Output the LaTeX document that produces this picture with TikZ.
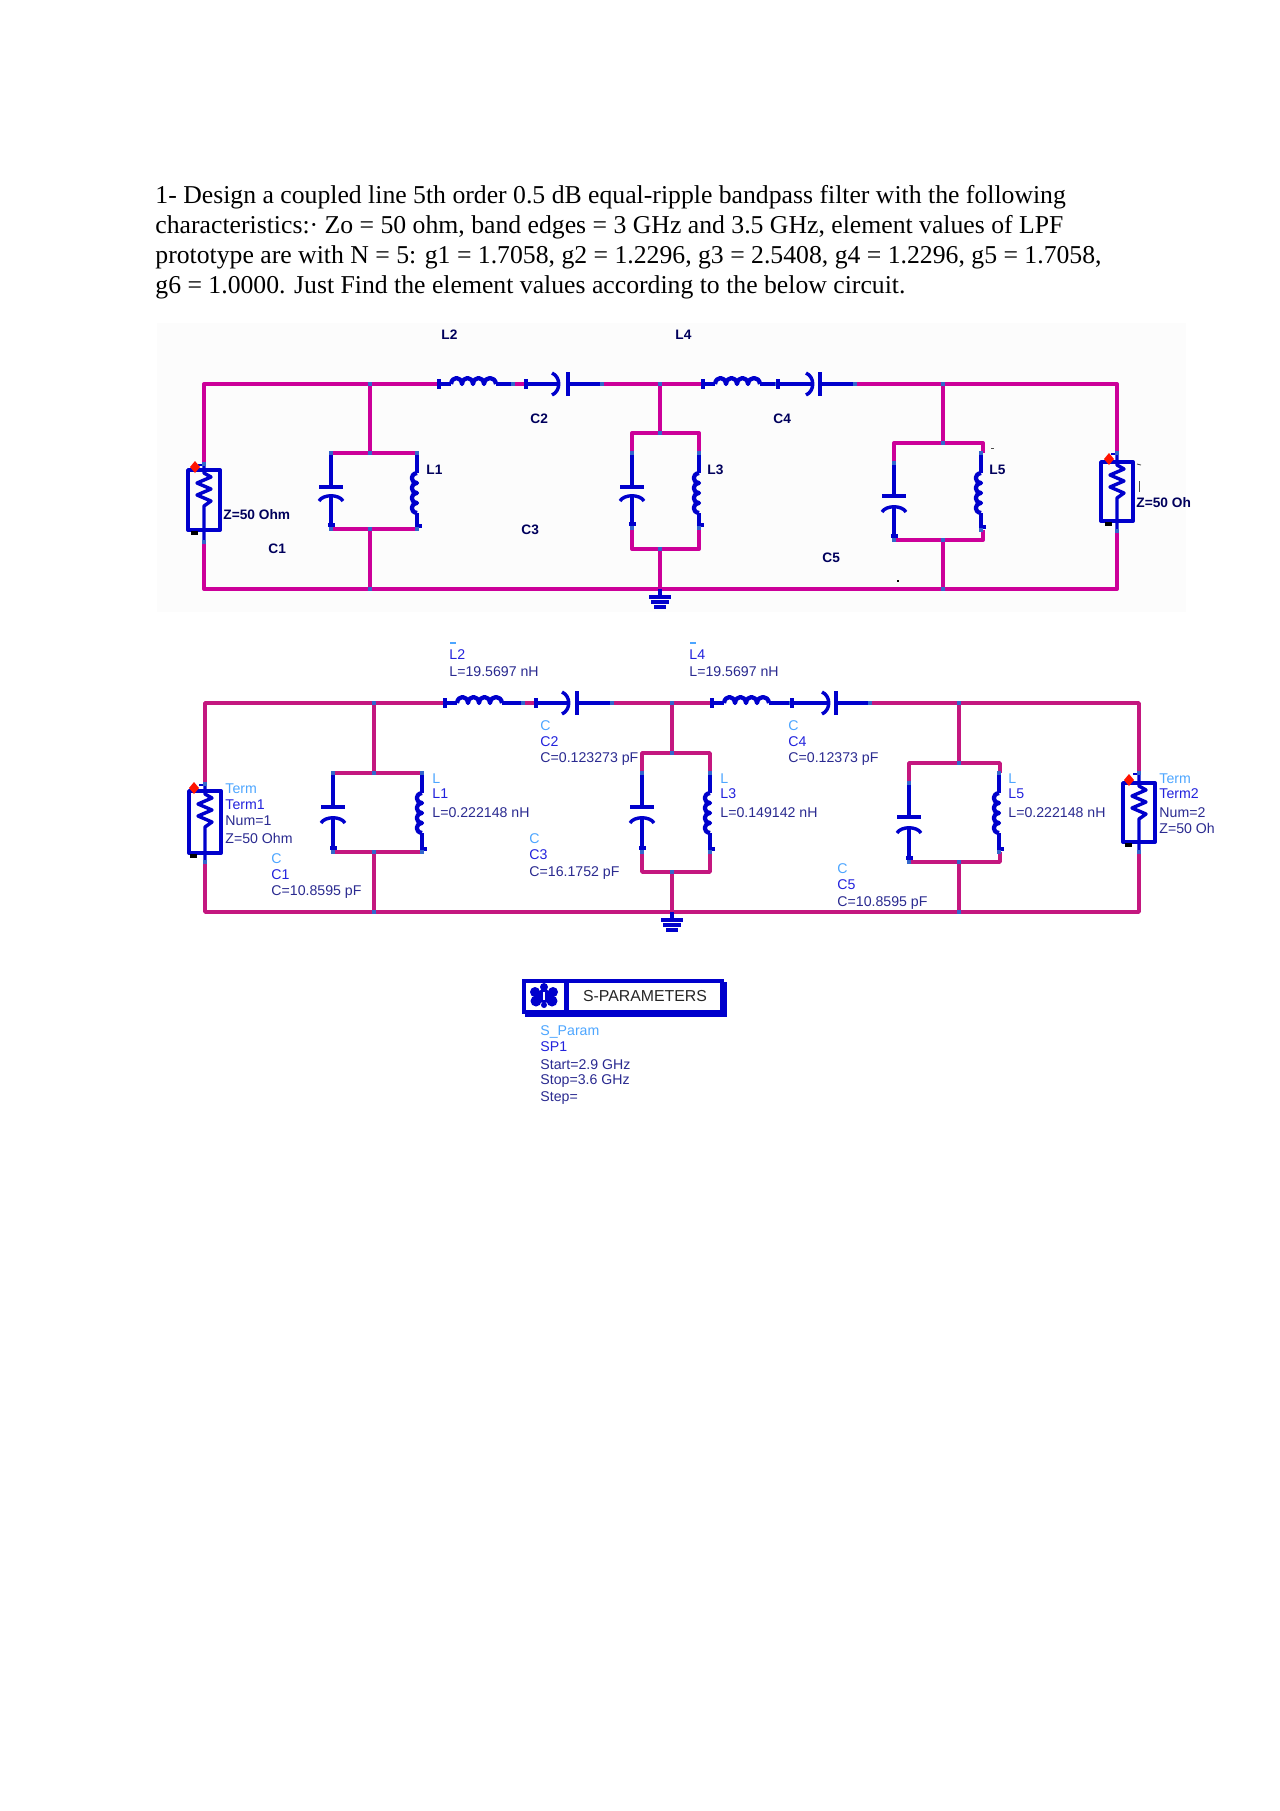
\documentclass[tikz,border=0pt]{standalone}
\usepackage{fontspec}
\setmainfont{Liberation Serif}
\newfontfamily\adsfont{Liberation Sans}
\usetikzlibrary{calc}
\definecolor{railtop}{HTML}{CC0099}
\definecolor{railbot}{HTML}{C4177F}
\definecolor{partblue}{HTML}{0000CC}
\definecolor{pinblue}{HTML}{3366CC}
\definecolor{typeblue}{HTML}{4DA6FF}
\definecolor{nameblue}{HTML}{2222DD}
\definecolor{valblue}{HTML}{2A2A90}
\tikzset{
	wiretop/.style={line width=1.9pt, color=railtop, line join=round},
	wirebot/.style={line width=1.7pt, color=railbot, line join=round},
	part/.style={line width=1.6pt, color=partblue, line join=round},
	coil/.style={line width=2pt, color=partblue, line join=round},
	head/.style={anchor=west, inner sep=0pt, text height=8pt, text depth=0pt, font=\fontsize{12}{14}\selectfont},
	blur/.style={anchor=west, inner sep=0pt, text height=4.7pt, text depth=0pt, color=black!40!blue!60!black, font=\adsfont\bfseries\fontsize{6.4}{7}\selectfont},
	ttype/.style={anchor=west, inner sep=0pt, text height=4.7pt, text depth=0pt, color=typeblue, font=\adsfont\fontsize{6.6}{7.5}\selectfont},
	tname/.style={ttype, color=nameblue},
	tval/.style={ttype, color=valblue},
}
\def\junc(#1,#2){\fill[pinblue] ({#1-2},{#2-2}) rectangle ({#1+2},{#2+2});}
\def\serind(#1,#2,#3){\draw[part] ({#1+2},{#3-5}) -- ({#1+2},{#3+5});
	\draw[part] (#1,#3) -- ({#1+14},#3);
	\draw[coil] ({#1+14},#3) .. controls ({#1+15},{#3-8}) and ({#1+24},{#3-8}) .. ({#1+25},#3)
		.. controls ({#1+26},{#3-8}) and ({#1+35},{#3-8}) .. ({#1+36},#3)
		.. controls ({#1+37},{#3-8}) and ({#1+46},{#3-8}) .. ({#1+47},#3)
		.. controls ({#1+48},{#3-8}) and ({#1+58},{#3-8}) .. ({#1+59},#3);
	\draw[part] ({#1+59},#3) -- (#2,#3);
	\junc(#2,#3)}
\def\sercap(#1,#2,#3,#4,#5){\draw[part] ({#1+1},{#5-5}) -- ({#1+1},{#5+5});
	\draw[part] (#1,#5) -- ({#2+3},#5);
	\draw[part] ({#2-3},{#5-11}) .. controls ({#2+6},{#5-7}) and ({#2+6},{#5+7}) .. ({#2-3},{#5+11});
	\draw[part] (#3,{#5-12}) -- (#3,{#5+12});
	\draw[part] (#3,#5) -- (#4,#5);
	\junc(#4,#5)}
\def\shcap(#1,#2,#3,#4,#5){\draw[part] (#1,#2) -- (#1,#4);
	\draw[part] ({#1-12},#4) -- ({#1+12},#4);
	\draw[part] ({#1-12},{#5+3}) .. controls ({#1-8},{#5-4}) and ({#1+8},{#5-4}) .. ({#1+12},{#5+3});
	\draw[part] (#1,{#5-2}) -- (#1,#3);
	\draw[part] ({#1-3},{#3-4}) -- ({#1+4},{#3-4});
	\junc(#1,#2) \junc(#1,#3)}
\def\shind(#1,#2,#3,#4){\draw[part] (#1,#2) -- (#1,#4);
	\draw[coil] (#1,#4)
		.. controls ({#1-7},{#4+1}) and ({#1-7},{#4+9}) .. (#1,{#4+10})
		.. controls ({#1-7},{#4+11}) and ({#1-7},{#4+19}) .. (#1,{#4+20})
		.. controls ({#1-7},{#4+21}) and ({#1-7},{#4+29}) .. (#1,{#4+30})
		.. controls ({#1-7},{#4+31}) and ({#1-7},{#4+39}) .. (#1,{#4+40});
	\draw[part] (#1,{#4+40}) -- (#1,#3);
	\draw[part] ({#1-2},{#3-3}) -- ({#1+5},{#3-3});
	\junc(#1,#2) \junc(#1,#3)}
\def\termbox(#1,#2,#3,#4,#5,#6){\draw[part, line width=1.8pt] ({#1-16},#2) rectangle ({#1+16},#3);
	\draw[part] (#1,#4) -- (#1,{#2+3}) -- ({#1+7},{#2+7}) -- ({#1-7},{#2+13}) -- ({#1+7},{#2+19}) -- ({#1-7},{#2+25}) -- ({#1+7},{#2+31}) -- (#1,{#2+36}) -- (#1,#5);
	\draw[part, line width=1pt] ({#1-6},{#4+1}) -- (#1,{#4+1});
	\fill[red!85!orange] ({#6-5},{#2-3}) -- (#6,{#2-9}) -- ({#6+5},{#2-3}) -- (#6,{#2+3}) -- cycle;
	\fill[black] ({#6-4},{#3+1}) rectangle ({#6+3},{#3+5});
	\junc(#1,#4) \junc(#1,#5)}
\def\grnd(#1,#2){\draw[part] (#1,#2) -- (#1,{#2+8});
	\draw[part] ({#1-11},{#2+8}) -- ({#1+11},{#2+8});
	\draw[part] ({#1-9},{#2+13}) -- ({#1+9},{#2+13});
	\draw[part] ({#1-6},{#2+18}) -- ({#1+6},{#2+18});}

\begin{document}
\begin{tikzpicture}[x=0.0164cm, y=-0.0164cm]
	\useasboundingbox (0, 0) rectangle (1280, 1811);
	\fill[white] (0, 0) rectangle (1280, 1811);
	
	%%%%% TEXT %%%%%
	\node[head] (line1) at (155, 195) {1- Design a coupled line 5th order 0.5 dB equal-ripple bandpass filter with the following};
	\node[head] (line2) at (155, 225) {characteristics:· Zo = 50 ohm, band edges = 3 GHz and 3.5 GHz, element values of LPF};
	\node[head] (line3) at (155, 255) {prototype are with N = 5: g1 = 1.7058, g2 = 1.2296, g3 = 2.5408, g4 = 1.2296, g5 = 1.7058,};
	\node[head] (line4) at (155, 285) {g6 = 1.0000. Just Find the element values according to the below circuit.};
	
	%%%%% UPPER CIRCUIT %%%%%
	\fill[black!1] (157, 323) rectangle (1186, 612);
	\coordinate (aTL) at (204, 384);
	\coordinate (aTR) at (1117, 384);
	\coordinate (aBL) at (204, 589);
	\coordinate (aBR) at (1117, 589);
	\coordinate (aT1t) at (204, 464);
	\coordinate (aT1b) at (204, 542);
	\coordinate (aT2t) at (1117, 453);
	\coordinate (aT2b) at (1117, 531);
	\coordinate (aL2a) at (437, 384);
	\coordinate (aL2b) at (513, 384);
	\coordinate (aC2a) at (525, 384);
	\coordinate (aC2b) at (602, 384);
	\coordinate (aL4a) at (701, 384);
	\coordinate (aC4b) at (855, 384);
	
	\draw[wiretop] (aT1t) -- (aTL) -- (aL2a);
	\draw[wiretop] (aL2b) -- (aC2a);
	\draw[wiretop] (aC2b) -- (aL4a);
	\draw[wiretop] (aC4b) -- (aTR) -- (aT2t);
	\draw[wiretop] (aT2b) -- (aBR) -- (aBL) -- (aT1b);
	
	\draw[wiretop] (370, 384) -- (370, 453);
	\draw[wiretop] (370, 529) -- (370, 589);
	\draw[wiretop] (331, 453) -- (417, 453);
	\draw[wiretop] (331, 529) -- (417, 529);
	
	\draw[wiretop] (660, 384) -- (660, 433);
	\draw[wiretop] (660, 549) -- (660, 589);
	\draw[wiretop] (632, 453) -- (632, 433) -- (699, 433) -- (699, 453);
	\draw[wiretop] (632, 528) -- (632, 549) -- (699, 549) -- (699, 528);
	
	\draw[wiretop] (943, 384) -- (943, 443);
	\draw[wiretop] (943, 540) -- (943, 589);
	\draw[wiretop] (894, 463) -- (894, 443) -- (983, 443) -- (983, 453);
	\draw[wiretop] (894, 540) -- (983, 540) -- (983, 530);
	
	\serind(437, 513, 384)
	\sercap(525, 555, 568, 602, 384)
	\serind(701, 777, 384)
	\sercap(777, 809, 820, 855, 384)
	
	\shcap(331, 453, 529, 487, 498)
	\shind(417, 453, 529, 473)
	\shcap(632, 453, 528, 487, 498)
	\shind(699, 453, 528, 473)
	\shcap(894, 463, 540, 496, 509)
	\shind(981, 453, 530, 473)
	
	\termbox(204, 470, 530, 464, 542, 195)
	\termbox(1117, 462, 521, 453, 531, 1109)
	\grnd(660, 589)
	\junc(370, 384) \junc(370, 453) \junc(370, 529) \junc(370, 589)
	\junc(660, 384) \junc(660, 433) \junc(660, 549)
	\junc(943, 384) \junc(943, 443) \junc(943, 540) \junc(943, 589)
	
	\node[blur] (aL2) at (441, 334) {L2};
	\node[blur] (aL4) at (675, 334) {L4};
	\node[blur] (aC2) at (530, 418) {C2};
	\node[blur] (aC4) at (773, 418) {C4};
	\node[blur] (aL1) at (426, 469) {L1};
	\node[blur] (aL3) at (707, 469) {L3};
	\node[blur] (aL5) at (989, 469) {L5};
	\node[blur] (aC3) at (521, 529) {C3};
	\node[blur] (aC5) at (822, 557) {C5};
	\node[blur] (aC1) at (268, 548) {C1};
	\node[blur] (aZ1) at (223, 514) {Z=50 Ohm};
	\node[blur] (aZ2) at (1136, 502) {Z=50 Oh};
	\fill[black] (897, 580) rectangle (899, 582);
	\draw[black!70, line width=0.4pt] (1139, 481) -- (1139, 492);
	\draw[black!70, line width=0.4pt] (1137, 464) -- (1141, 465);
	\draw[black!70, line width=0.4pt] (991, 448) -- (994, 448);
	
	%%%%% LOWER CIRCUIT %%%%%
	\coordinate (bTL) at (205, 703);
	\coordinate (bTR) at (1139, 703);
	\coordinate (bBL) at (205, 912);
	\coordinate (bBR) at (1139, 912);
	\coordinate (bT1t) at (205, 784);
	\coordinate (bT1b) at (205, 862);
	\coordinate (bT2t) at (1139, 773);
	\coordinate (bT2b) at (1139, 852);
	\coordinate (bL2a) at (443, 703);
	\coordinate (bL2b) at (523, 703);
	\coordinate (bC2a) at (535, 703);
	\coordinate (bC2b) at (612, 703);
	\coordinate (bL4a) at (710, 703);
	\coordinate (bC4b) at (870, 703);
	
	\draw[wirebot] (bT1t) -- (bTL) -- (bL2a);
	\draw[wirebot] (bL2b) -- (bC2a);
	\draw[wirebot] (bC2b) -- (bL4a);
	\draw[wirebot] (bC4b) -- (bTR) -- (bT2t);
	\draw[wirebot] (bT2b) -- (bBR) -- (bBL) -- (bT1b);
	
	\draw[wirebot] (374, 703) -- (374, 773);
	\draw[wirebot] (374, 852) -- (374, 912);
	\draw[wirebot] (333, 773) -- (422, 773);
	\draw[wirebot] (333, 852) -- (422, 852);
	
	\draw[wirebot] (672, 703) -- (672, 753);
	\draw[wirebot] (672, 872) -- (672, 912);
	\draw[wirebot] (642, 773) -- (642, 753) -- (710, 753) -- (710, 773);
	\draw[wirebot] (642, 852) -- (642, 872) -- (710, 872) -- (710, 852);
	
	\draw[wirebot] (959, 703) -- (959, 763);
	\draw[wirebot] (959, 862) -- (959, 912);
	\draw[wirebot] (909, 783) -- (909, 763) -- (1000, 763) -- (1000, 773);
	\draw[wirebot] (909, 862) -- (1000, 862) -- (1000, 852);
	
	\serind(443, 523, 703)
	\sercap(535, 565, 577, 612, 703)
	\serind(710, 791, 703)
	\sercap(791, 825, 836, 870, 703)
	
	\shcap(333, 773, 852, 807, 820)
	\shind(422, 773, 852, 793)
	\shcap(642, 773, 852, 807, 820)
	\shind(710, 773, 852, 793)
	\shcap(909, 783, 862, 817, 830)
	\shind(999, 773, 852, 793)
	
	\termbox(205, 791, 853, 784, 862, 194)
	\termbox(1139, 783, 842, 773, 852, 1129)
	\grnd(672, 912)
	\junc(374, 703) \junc(374, 773) \junc(374, 852) \junc(374, 912)
	\junc(672, 703) \junc(672, 753) \junc(672, 872)
	\junc(959, 703) \junc(959, 763) \junc(959, 862) \junc(959, 912)
	
	\node[ttype] (bL1t) at (432, 778) {L};
	\node[tname] (bL1n) at (432, 793) {L1};
	\node[tval] (bL1v) at (432, 812) {L=0.222148 nH};
	\draw[typeblue, line width=0.5pt] (450, 643) -- (456, 643);
	\node[tname] (bL2n) at (449, 654) {L2};
	\node[tval] (bL2v) at (449, 671) {L=19.5697 nH};
	\node[ttype] (bC2t) at (540, 725) {C};
	\node[tname] (bC2n) at (540, 741) {C2};
	\node[tval] (bC2v) at (540, 757) {C=0.123273 pF};
	\node[ttype] (bC3t) at (529, 838) {C};
	\node[tname] (bC3n) at (529, 854) {C3};
	\node[tval] (bC3v) at (529, 871) {C=16.1752 pF};
	\node[ttype] (bC1t) at (271, 858) {C};
	\node[tname] (bC1n) at (271, 874) {C1};
	\node[tval] (bC1v) at (271, 890) {C=10.8595 pF};
	\node[ttype] (bT1t) at (225, 788) {Term};
	\node[tname] (bT1n) at (225, 804) {Term1};
	\node[tval] (bT1m) at (225, 820) {Num=1};
	\node[tval] (bT1z) at (225, 838) {Z=50 Ohm};
	\draw[typeblue, line width=0.5pt] (690, 643) -- (696, 643);
	\node[tname] (bL4n) at (689, 654) {L4};
	\node[tval] (bL4v) at (689, 671) {L=19.5697 nH};
	\node[ttype] (bC4t) at (788, 725) {C};
	\node[tname] (bC4n) at (788, 741) {C4};
	\node[tval] (bC4v) at (788, 757) {C=0.12373 pF};
	\node[ttype] (bL3t) at (720, 778) {L};
	\node[tname] (bL3n) at (720, 793) {L3};
	\node[tval] (bL3v) at (720, 812) {L=0.149142 nH};
	\node[ttype] (bL5t) at (1008, 778) {L};
	\node[tname] (bL5n) at (1008, 793) {L5};
	\node[tval] (bL5v) at (1008, 812) {L=0.222148 nH};
	\node[ttype] (bC5t) at (837, 868) {C};
	\node[tname] (bC5n) at (837, 884) {C5};
	\node[tval] (bC5v) at (837, 901) {C=10.8595 pF};
	\node[ttype] (bT2t) at (1159, 778) {Term};
	\node[tname] (bT2n) at (1159, 793) {Term2};
	\node[tval] (bT2m) at (1159, 812) {Num=2};
	\node[tval] (bT2z) at (1159, 828) {Z=50 Oh};
	
	%%%%% S-PARAMETERS BOX %%%%%
	\fill[partblue] (525, 982) rectangle (727, 1017);
	\fill[partblue] (522, 979) rectangle (724, 1014);
	\fill[white] (569, 983) rectangle (720, 1010);
	\fill[white] (526, 983) rectangle (564, 1010);
	\fill[partblue] (544, 996) circle (7);
	\fill[partblue] (535, 992) circle (5);
	\fill[partblue] (553, 992) circle (5);
	\fill[partblue] (536, 1001) circle (5.5);
	\fill[partblue] (552, 1001) circle (5.5);
	\fill[partblue] (544, 987) circle (4);
	\fill[partblue] (544, 1005) circle (3);
	\fill[white] (543.2, 992) rectangle (544.8, 1000);
	\node[anchor=center, inner sep=0pt, color=black!85, font=\adsfont\fontsize{7.4}{8}\selectfont] (spbox) at (645, 996) {S-PARAMETERS};
	\node[ttype] (spt) at (540, 1030) {S\_Param};
	\node[tname] (spn) at (540, 1046) {SP1};
	\node[tval] (spa) at (540, 1064) {Start=2.9 GHz};
	\node[tval] (spb) at (540, 1079) {Stop=3.6 GHz};
	\node[tval] (spc) at (540, 1096) {Step=};
\end{tikzpicture}
\end{document}
